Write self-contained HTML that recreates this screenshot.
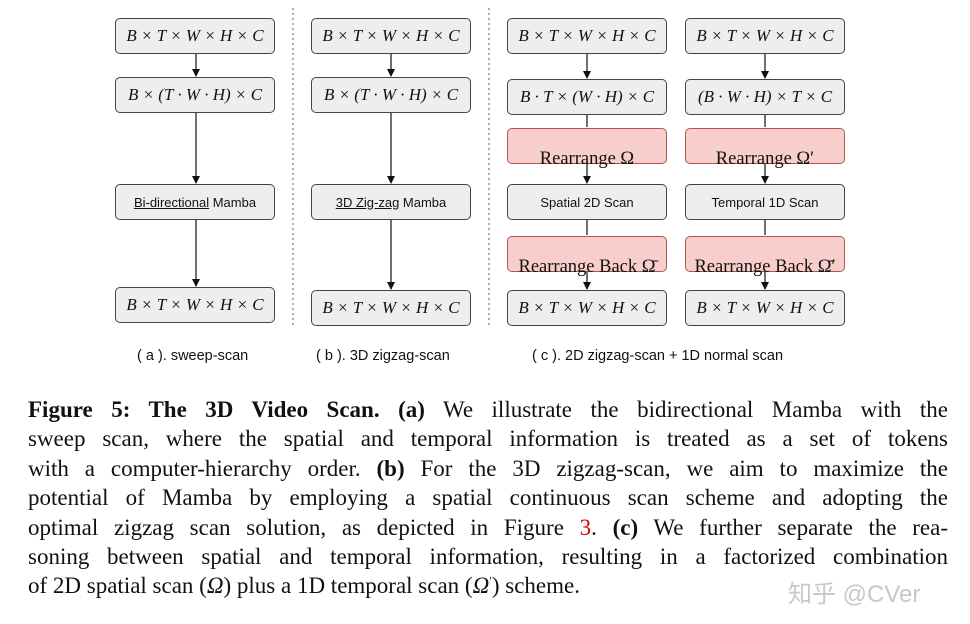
<!DOCTYPE html>
<html><head><meta charset="utf-8"><style>
body{margin:0;width:970px;height:624px;background:#fff;position:relative;overflow:hidden;font-family:"Liberation Serif",serif}
.b{position:absolute;width:158px;height:34px;border:1px solid #444;border-radius:5px;background:#eeeeee;display:flex;align-items:center;justify-content:center;font-size:17px;font-style:italic;color:#111;box-sizing:content-box}
.s{font-family:"Liberation Sans",sans-serif;font-style:normal;font-size:13px}
.p{background:#f8cecc;border-color:#b85450;font-style:normal;font-size:18.5px;align-items:flex-end;line-height:18px}
.p span{position:relative;top:5px}
.cap{position:absolute;top:348px;font-family:"Liberation Sans",sans-serif;font-size:14.5px;color:#111;white-space:nowrap}
.para{position:absolute;left:28px;top:395px;width:920px;font-size:23px;line-height:29.4px;color:#111}
.para div{text-align:justify;text-align-last:justify;height:29.4px;white-space:normal}
.para div.l{text-align-last:left}
.para b{font-weight:bold}
.wm{position:absolute;left:788px;top:574px;font-family:"Liberation Sans","Noto Sans CJK SC",sans-serif;font-size:24px;color:#c8c8c8}
</style></head><body>
<svg width="970" height="340" style="position:absolute;left:0;top:0">
<defs><marker id="a" markerWidth="8" markerHeight="8" refX="7" refY="4" orient="auto" markerUnits="userSpaceOnUse"><path d="M0,0 L8,4 L0,8 Z" fill="#111"/></marker></defs>
<g stroke="#111" stroke-width="1.2" fill="none">
<line x1="293" y1="8" x2="293" y2="325" stroke="#777" stroke-dasharray="2,3"/>
<line x1="489" y1="8" x2="489" y2="325" stroke="#777" stroke-dasharray="2,3"/>
<line x1="196" y1="54" x2="196" y2="76" marker-end="url(#a)"/>
<line x1="196" y1="113" x2="196" y2="183" marker-end="url(#a)"/>
<line x1="196" y1="220" x2="196" y2="286" marker-end="url(#a)"/>
<line x1="391" y1="54" x2="391" y2="76" marker-end="url(#a)"/>
<line x1="391" y1="113" x2="391" y2="183" marker-end="url(#a)"/>
<line x1="391" y1="220" x2="391" y2="289" marker-end="url(#a)"/>
<line x1="587" y1="54" x2="587" y2="78" marker-end="url(#a)"/>
<line x1="587" y1="115" x2="587" y2="127"/>
<line x1="587" y1="164" x2="587" y2="183" marker-end="url(#a)"/>
<line x1="587" y1="220" x2="587" y2="235"/>
<line x1="587" y1="272" x2="587" y2="289" marker-end="url(#a)"/>
<line x1="765" y1="54" x2="765" y2="78" marker-end="url(#a)"/>
<line x1="765" y1="115" x2="765" y2="127"/>
<line x1="765" y1="164" x2="765" y2="183" marker-end="url(#a)"/>
<line x1="765" y1="220" x2="765" y2="235"/>
<line x1="765" y1="272" x2="765" y2="289" marker-end="url(#a)"/>
</g></svg>

<div class="b" style="left:115px;top:18px">B × T × W × H × C</div>
<div class="b" style="left:115px;top:77px">B × (T · W · H) × C</div>
<div class="b s" style="left:115px;top:184px"><span><u>Bi-directional</u> Mamba</span></div>
<div class="b" style="left:115px;top:287px">B × T × W × H × C</div>

<div class="b" style="left:311px;top:18px">B × T × W × H × C</div>
<div class="b" style="left:311px;top:77px">B × (T · W · H) × C</div>
<div class="b s" style="left:311px;top:184px"><span><u>3D Zig-zag</u> Mamba</span></div>
<div class="b" style="left:311px;top:290px">B × T × W × H × C</div>

<div class="b" style="left:507px;top:18px">B × T × W × H × C</div>
<div class="b" style="left:507px;top:79px">B · T × (W · H) × C</div>
<div class="b p" style="left:507px;top:128px"><span>Rearrange Ω</span></div>
<div class="b s" style="left:507px;top:184px">Spatial 2D Scan</div>
<div class="b p" style="left:507px;top:236px"><span>Rearrange Back Ω̄</span></div>
<div class="b" style="left:507px;top:290px">B × T × W × H × C</div>

<div class="b" style="left:685px;top:18px">B × T × W × H × C</div>
<div class="b" style="left:685px;top:79px">(B · W · H) × T × C</div>
<div class="b p" style="left:685px;top:128px"><span>Rearrange Ω′</span></div>
<div class="b s" style="left:685px;top:184px">Temporal 1D Scan</div>
<div class="b p" style="left:685px;top:236px"><span>Rearrange Back Ω̄′</span></div>
<div class="b" style="left:685px;top:290px">B × T × W × H × C</div>

<div class="cap" style="left:137px">( a ). sweep-scan</div>
<div class="cap" style="left:316px">( b ). 3D zigzag-scan</div>
<div class="cap" style="left:532px">( c ). 2D zigzag-scan + 1D normal scan</div>

<div class="para">
<div><b>Figure 5: The 3D Video Scan.</b> <b>(a)</b> We illustrate the bidirectional Mamba with the</div>
<div>sweep scan, where the spatial and temporal information is treated as a set of tokens</div>
<div>with a computer-hierarchy order. <b>(b)</b> For the 3D zigzag-scan, we aim to maximize the</div>
<div>potential of Mamba by employing a spatial continuous scan scheme and adopting the</div>
<div>optimal zigzag scan solution, as depicted in Figure <span style="color:#d00">3</span>. <b>(c)</b> We further separate the rea-</div>
<div>soning between spatial and temporal information, resulting in a factorized combination</div>
<div class="l">of 2D spatial scan (<i>Ω</i>) plus a 1D temporal scan (<i>Ω</i><sup style="font-size:12px;line-height:0">′</sup>) scheme.</div>
</div>
<div class="wm">知乎 @CVer</div>
</body></html>
